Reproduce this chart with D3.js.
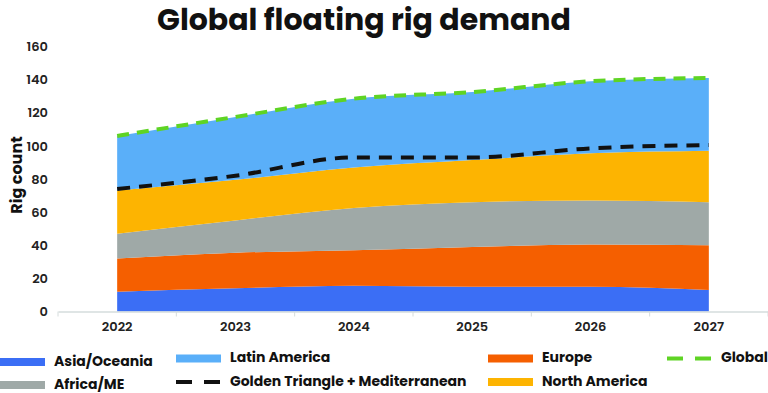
<!DOCTYPE html>
<html>
<head>
<meta charset="utf-8">
<script src="https://d3js.org/d3.v7.min.js"></script>
<style>
	body { margin: 0; background: #fff; }
	text { font-family: Poppins, "Open Sans", sans-serif; }
</style>
</head>
<body>
<svg width="768" height="393"></svg>
<script>

var years = ["2022", "2023", "2024", "2025", "2026", "2027"];
var asiaOceania = [12, 14, 15.5, 15, 15, 13];
var europe = [20, 21.5, 21.5, 24, 25.5, 27];
var africaME = [15, 19.5, 25.5, 27, 26.5, 26];
var northAmerica = [26, 24.5, 24.5, 25.5, 28.5, 31];
var latinAmerica = [33, 38, 41.5, 41, 43.5, 44];
var goldenTriangle = [74, 82, 93, 93, 98.5, 100.5];
var globalTotal = [106, 117.5, 128.5, 132.5, 139, 141];
var yTicks = [0, 20, 40, 60, 80, 100, 120, 140, 160];

var series = [
	{ name: "Asia/Oceania", values: asiaOceania, color: "#3b6ef5" },
	{ name: "Europe", values: europe, color: "#f55f00" },
	{ name: "Africa/ME", values: africaME, color: "#9fa9a7" },
	{ name: "North America", values: northAmerica, color: "#fdb401" },
	{ name: "Latin America", values: latinAmerica, color: "#5aaff9" }
];

var svg = d3.select("svg");

var x = d3.scaleBand()
	.domain(years)
	.range([58, 768]);

var y = d3.scaleLinear()
	.domain([0, 160])
	.range([311.5, 46.5]);

var cx = function (i) { return x(years[i]) + x.bandwidth() / 2; };

// stack the regions
var table = years.map(function (yr, i) {
	var row = { year: yr };
	series.forEach(function (s) { row[s.name] = s.values[i]; });
	return row;
});
var stack = d3.stack().keys(series.map(function (s) { return s.name; }));
var layers = stack(table);

var area = d3.area()
	.curve(d3.curveMonotoneX)
	.x(function (d, i) { return cx(i); })
	.y0(function (d) { return y(d[0]); })
	.y1(function (d) { return y(d[1]); });

svg.append("g").selectAll("path")
	.data(layers)
	.enter().append("path")
	.attr("fill", function (d, i) { return series[i].color; })
	.attr("d", area);

var line = d3.line()
	.curve(d3.curveMonotoneX)
	.x(function (d, i) { return cx(i); })
	.y(function (d) { return y(d); });

svg.append("path")
	.datum(goldenTriangle)
	.attr("fill", "none")
	.attr("stroke", "#111")
	.attr("stroke-width", 4)
	.attr("stroke-dasharray", "13,9")
	.attr("d", line);

svg.append("path")
	.datum(globalTotal)
	.attr("fill", "none")
	.attr("stroke", "#5fd424")
	.attr("stroke-width", 4)
	.attr("stroke-dasharray", "12,8")
	.attr("d", line);

// x axis
var xAxis = svg.append("g")
	.attr("transform", "translate(0,311.5)")
	.call(d3.axisBottom(x).tickSize(0).tickPadding(10));
xAxis.select(".domain").attr("stroke", "#d5dcdc").attr("stroke-width", 1.5);
xAxis.selectAll("text")
	.attr("font-size", 13)
	.attr("font-weight", 600)
	.attr("fill", "#222")
	.style("font-family", "Poppins, 'Open Sans', sans-serif");
xAxis.selectAll(".boundary")
	.data(years.concat(["end"]))
	.enter().append("line")
	.attr("x1", function (d, i) { return 58 + i * x.bandwidth(); })
	.attr("x2", function (d, i) { return 58 + i * x.bandwidth(); })
	.attr("y1", 0)
	.attr("y2", 5)
	.attr("stroke", "#d5dcdc");

// y axis
var yAxis = svg.append("g")
	.attr("transform", "translate(48,0)")
	.call(d3.axisLeft(y).tickValues(yTicks).tickSize(0).tickPadding(0));
yAxis.select(".domain").remove();
yAxis.selectAll("text")
	.attr("font-size", 13)
	.attr("font-weight", 600)
	.attr("fill", "#222")
	.style("font-family", "Poppins, 'Open Sans', sans-serif");

svg.append("text")
	.attr("transform", "translate(18,175) rotate(-90)")
	.attr("text-anchor", "middle")
	.attr("dominant-baseline", "middle")
	.attr("font-size", 16)
	.attr("font-weight", 700)
	.attr("fill", "#111")
	.text("Rig count");

svg.append("text")
	.attr("x", 364)
	.attr("y", 30)
	.attr("text-anchor", "middle")
	.attr("font-size", 30)
	.attr("font-weight", 700)
	.attr("fill", "#111")
	.text("Global floating rig demand");

// legend
var legend = [
	{ name: "Asia/Oceania", color: "#3b6ef5", dash: false, x: 0, y: 362 },
	{ name: "Latin America", color: "#5aaff9", dash: false, x: 176, y: 358.5 },
	{ name: "Europe", color: "#f55f00", dash: false, x: 488, y: 358.5 },
	{ name: "Global", color: "#5fd424", dash: true, x: 667, y: 358.5 },
	{ name: "Africa/ME", color: "#9fa9a7", dash: false, x: 0, y: 385 },
	{ name: "Golden Triangle + Mediterranean", color: "#111", dash: true, x: 176, y: 382 },
	{ name: "North America", color: "#fdb401", dash: false, x: 488, y: 382 }
];

var lg = svg.append("g").selectAll("g")
	.data(legend)
	.enter().append("g")
	.attr("transform", function (d) { return "translate(" + d.x + "," + d.y + ")"; });

lg.filter(function (d) { return !d.dash; })
	.append("rect")
	.attr("x", 0)
	.attr("y", -4)
	.attr("width", 45)
	.attr("height", 8)
	.attr("fill", function (d) { return d.color; });

lg.filter(function (d) { return d.dash; })
	.append("line")
	.attr("x1", 0)
	.attr("x2", 44)
	.attr("y1", 0)
	.attr("y2", 0)
	.attr("stroke", function (d) { return d.color; })
	.attr("stroke-width", 4)
	.attr("stroke-dasharray", "16,12");

lg.append("text")
	.attr("x", function (d) { return d.dash && d.name == "Global" ? 54 : 54; })
	.attr("y", 0)
	.attr("dominant-baseline", "middle")
	.attr("font-size", 14)
	.attr("font-weight", 700)
	.attr("fill", "#111")
	.text(function (d) { return d.name; });

</script>
</body>
</html>
